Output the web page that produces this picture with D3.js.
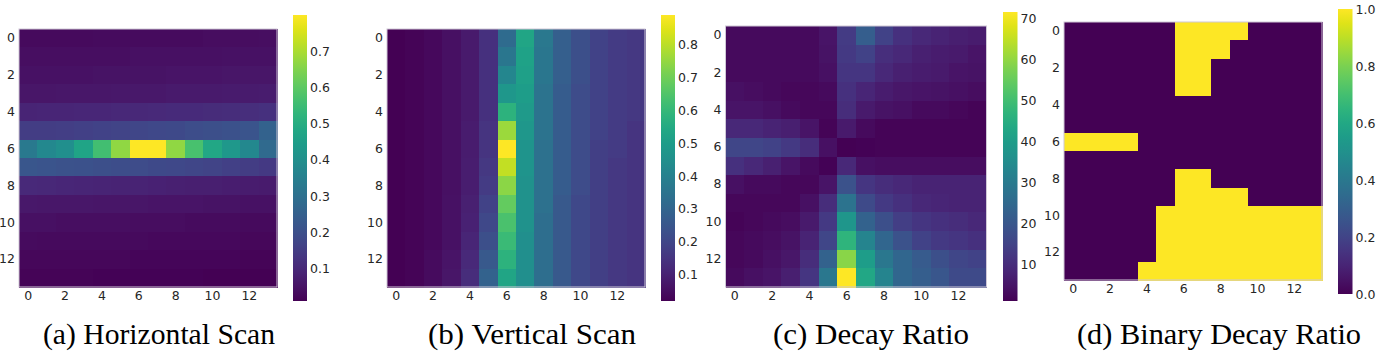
<!DOCTYPE html>
<html>
<head>
<meta charset="utf-8">
<script src="https://cdn.jsdelivr.net/npm/d3@7"></script>
<style>
  body { margin: 0; background: #fff; }
  svg { display: block; }
  .tick text { font-family: "DejaVu Sans", sans-serif; font-size: 12.5px; fill: #262626; }
</style>
</head>
<body>
<svg id="chart" width="1376" height="355"></svg>
<script>
// values (rows 0..13, columns 0..13)
const horizontalScan = [
  [0.030,0.030,0.031,0.031,0.032,0.032,0.033,0.033,0.034,0.034,0.035,0.036,0.037,0.038],
  [0.038,0.038,0.039,0.039,0.040,0.040,0.041,0.041,0.042,0.042,0.043,0.044,0.045,0.046],
  [0.045,0.046,0.046,0.047,0.048,0.049,0.050,0.050,0.051,0.052,0.053,0.054,0.055,0.056],
  [0.055,0.056,0.057,0.058,0.059,0.060,0.061,0.062,0.063,0.064,0.065,0.067,0.068,0.070],
  [0.090,0.091,0.092,0.094,0.095,0.097,0.099,0.101,0.103,0.105,0.107,0.110,0.113,0.120],
  [0.150,0.150,0.155,0.160,0.165,0.170,0.175,0.180,0.185,0.195,0.200,0.205,0.215,0.255],
  [0.330,0.380,0.400,0.470,0.560,0.670,0.800,0.800,0.670,0.570,0.480,0.430,0.380,0.280],
  [0.220,0.215,0.210,0.205,0.200,0.195,0.190,0.185,0.180,0.175,0.170,0.160,0.150,0.140],
  [0.100,0.098,0.095,0.092,0.090,0.087,0.085,0.082,0.080,0.077,0.075,0.072,0.070,0.066],
  [0.060,0.059,0.058,0.057,0.056,0.055,0.054,0.053,0.052,0.051,0.050,0.048,0.047,0.045],
  [0.042,0.041,0.040,0.040,0.039,0.038,0.037,0.036,0.035,0.034,0.033,0.032,0.031,0.030],
  [0.032,0.031,0.031,0.030,0.030,0.029,0.029,0.028,0.028,0.027,0.027,0.026,0.025,0.025],
  [0.025,0.025,0.024,0.024,0.023,0.023,0.022,0.022,0.021,0.021,0.020,0.020,0.019,0.018],
  [0.018,0.018,0.017,0.017,0.016,0.016,0.015,0.015,0.014,0.014,0.013,0.012,0.011,0.010]
];

const verticalScan = [
  [0.02,0.03,0.040,0.055,0.080,0.14,0.32,0.53,0.37,0.28,0.23,0.19,0.17,0.16],
  [0.02,0.03,0.040,0.055,0.080,0.14,0.36,0.52,0.36,0.28,0.23,0.19,0.17,0.16],
  [0.02,0.03,0.040,0.055,0.080,0.14,0.42,0.51,0.36,0.28,0.23,0.19,0.17,0.16],
  [0.02,0.03,0.040,0.055,0.080,0.14,0.48,0.50,0.35,0.27,0.22,0.19,0.17,0.16],
  [0.02,0.03,0.040,0.055,0.080,0.14,0.58,0.49,0.35,0.27,0.22,0.19,0.17,0.16],
  [0.02,0.03,0.040,0.056,0.085,0.15,0.76,0.48,0.35,0.27,0.22,0.19,0.17,0.15],
  [0.02,0.03,0.040,0.056,0.085,0.15,0.89,0.47,0.34,0.27,0.22,0.18,0.17,0.15],
  [0.02,0.03,0.040,0.057,0.090,0.16,0.81,0.47,0.34,0.27,0.22,0.18,0.16,0.15],
  [0.02,0.03,0.040,0.057,0.090,0.17,0.74,0.46,0.34,0.27,0.22,0.18,0.16,0.15],
  [0.02,0.03,0.040,0.058,0.095,0.19,0.68,0.46,0.34,0.26,0.21,0.18,0.16,0.15],
  [0.02,0.03,0.040,0.058,0.100,0.21,0.64,0.46,0.33,0.26,0.21,0.18,0.16,0.15],
  [0.02,0.03,0.040,0.060,0.110,0.23,0.61,0.45,0.33,0.26,0.21,0.18,0.16,0.15],
  [0.02,0.03,0.045,0.065,0.120,0.26,0.58,0.45,0.33,0.26,0.21,0.18,0.16,0.15],
  [0.02,0.03,0.045,0.070,0.130,0.29,0.53,0.45,0.33,0.26,0.21,0.18,0.16,0.15]
];

const decayRatio = [
  [3,   3,   3,   3,   3,   5,   13.5,22,  15,  11,  9,   8,   7,   6.5],
  [3,   3,   3,   3,   3,   4.5, 13,  15,  10.5,9,   7.5, 6.5, 6,   5],
  [3,   3,   3,   3,   3,   4,   12,  12,  9,   7.5, 6.5, 6,   5,   4.5],
  [4,   3.5, 3,   2.5, 2.5, 3,   11,  8.5, 6.5, 5.5, 5,   4.5, 4,   3.5],
  [5,   5,   4,   3,   2.5, 2.5, 10,  6,   4.5, 4,   3,   3,   2.5, 2],
  [9,   9,   8,   7,   5,   2,   6,   3,   2,   2,   2,   2,   2,   2],
  [16,  16,  15,  13,  10,  4,   1.2, 1.5, 2,   2,   2,   2,   2,   2],
  [11,  9,   7.5, 5,   3,   1.5, 9,   4,   3.5, 3.5, 3.5, 3.5, 3.5, 3.5],
  [4,   3,   3,   2.5, 2.5, 5,   19,  12,  10,  9,   8,   8,   8,   8],
  [2.5, 2.5, 2.5, 2.5, 4,   10,  28,  17,  13,  11,  9,   8.5, 8,   8],
  [2,   2.5, 3,   3.5, 6,   13,  38,  23,  18,  14,  12,  11,  10,  9],
  [2.5, 3,   3.5, 4.5, 8,   16,  47,  33,  24,  19,  15,  13,  12,  11],
  [2.5, 3,   4,   5.5, 10,  23,  59,  40,  29,  24,  21,  18,  16,  15],
  [3,   4,   5,   7,   12,  29,  71.5,43,  33,  24,  22,  20,  17,  17]
];

const binaryDecayRatio = [
  [0,0,0,0,0,0,1,1,1,1,0,0,0,0],
  [0,0,0,0,0,0,1,1,1,0,0,0,0,0],
  [0,0,0,0,0,0,1,1,0,0,0,0,0,0],
  [0,0,0,0,0,0,1,1,0,0,0,0,0,0],
  [0,0,0,0,0,0,0,0,0,0,0,0,0,0],
  [0,0,0,0,0,0,0,0,0,0,0,0,0,0],
  [1,1,1,1,0,0,0,0,0,0,0,0,0,0],
  [0,0,0,0,0,0,0,0,0,0,0,0,0,0],
  [0,0,0,0,0,0,1,1,0,0,0,0,0,0],
  [0,0,0,0,0,0,1,1,1,1,0,0,0,0],
  [0,0,0,0,0,1,1,1,1,1,1,1,1,1],
  [0,0,0,0,0,1,1,1,1,1,1,1,1,1],
  [0,0,0,0,0,1,1,1,1,1,1,1,1,1],
  [0,0,0,0,1,1,1,1,1,1,1,1,1,1]
];

const axisTicks = [0, 2, 4, 6, 8, 10, 12];
const horizontalTicks = [0.1, 0.2, 0.3, 0.4, 0.5, 0.6, 0.7];
const verticalTicks = [0.1, 0.2, 0.3, 0.4, 0.5, 0.6, 0.7, 0.8];
const decayTicks = [10, 20, 30, 40, 50, 60, 70];
const binaryTicks = [0.0, 0.2, 0.4, 0.6, 0.8, 1.0];
const captions = ["(a) Horizontal Scan", "(b) Vertical Scan", "(c) Decay Ratio", "(d) Binary Decay Ratio"];

// layout of each panel (heatmap square, colorbar, caption)
const panels = [
  { data: horizontalScan, ticks: horizontalTicks, fmt: d3.format(".1f"),
    heat: { x: 19, y: 29, s: 258 }, bar: { x: 293, y: 15, w: 14, h: 286 }, cap: { x: 43, w: 232 } },
  { data: verticalScan, ticks: verticalTicks, fmt: d3.format(".1f"),
    heat: { x: 387, y: 29, s: 258 }, bar: { x: 661, y: 15, w: 14, h: 286 }, cap: { x: 428, w: 208 } },
  { data: decayRatio, ticks: decayTicks, fmt: d3.format("d"),
    heat: { x: 725.5, y: 26, s: 261 }, bar: { x: 1003, y: 12, w: 14.5, h: 289 }, cap: { x: 773, w: 196 } },
  { data: binaryDecayRatio, ticks: binaryTicks, fmt: d3.format(".1f"),
    heat: { x: 1064, y: 22, s: 258 }, bar: { x: 1338, y: 9, w: 14.5, h: 285 }, cap: { x: 1077, w: 284 } }
];

const svg = d3.select("#chart");
const defs = svg.append("defs");

// shared viridis gradient for the colorbars
const grad = defs.append("linearGradient")
  .attr("id", "viridis")
  .attr("x1", 0).attr("y1", 1).attr("x2", 0).attr("y2", 0);
d3.range(0, 1.0001, 0.05).forEach(t => {
  grad.append("stop").attr("offset", t).attr("stop-color", d3.interpolateViridis(t));
});

panels.forEach((p, k) => {
  const n = p.data.length;
  const flat = p.data.flat();
  const ext = d3.extent(flat);
  const color = d3.scaleSequential(d3.interpolateViridis).domain(ext);

  const x = d3.scaleBand().domain(d3.range(n)).range([p.heat.x, p.heat.x + p.heat.s]);
  const y = d3.scaleBand().domain(d3.range(n)).range([p.heat.y, p.heat.y + p.heat.s]);

  const g = svg.append("g");

  const cells = [];
  p.data.forEach((row, r) => row.forEach((v, c) => cells.push({ r, c, v })));

  g.append("g")
    .selectAll("rect")
    .data(cells)
    .join("rect")
      .attr("x", d => x(d.c))
      .attr("y", d => y(d.r))
      .attr("width", x.bandwidth() + 0.5)
      .attr("height", y.bandwidth() + 0.5)
      .attr("fill", d => color(d.v))
      .attr("shape-rendering", "crispEdges");

  g.append("rect")
    .attr("x", p.heat.x).attr("y", p.heat.y)
    .attr("width", p.heat.s).attr("height", p.heat.s)
    .attr("fill", "none")
    .attr("stroke", "#cfc8d6")
    .attr("stroke-width", 1);

  g.append("g")
    .attr("transform", `translate(0,${p.heat.y + p.heat.s})`)
    .call(d3.axisBottom(x).tickValues(axisTicks).tickSize(0).tickPadding(4))
    .call(a => a.select(".domain").remove());

  g.append("g")
    .attr("transform", `translate(${p.heat.x},0)`)
    .call(d3.axisLeft(y).tickValues(axisTicks).tickSize(0).tickPadding(4))
    .call(a => a.select(".domain").remove());

  // colorbar
  g.append("rect")
    .attr("x", p.bar.x).attr("y", p.bar.y)
    .attr("width", p.bar.w).attr("height", p.bar.h)
    .attr("fill", "url(#viridis)");

  const cy = d3.scaleLinear().domain(ext).range([p.bar.y + p.bar.h, p.bar.y]);
  g.append("g")
    .attr("transform", `translate(${p.bar.x + p.bar.w},0)`)
    .call(d3.axisRight(cy).tickValues(p.ticks).tickFormat(p.fmt).tickSize(0).tickPadding(3))
    .call(a => a.select(".domain").remove());

  svg.append("text")
    .attr("x", p.cap.x)
    .attr("y", 344)
    .attr("font-family", "'Liberation Serif', 'Times New Roman', Times, serif")
    .attr("font-size", 30)
    .attr("fill", "#000")
    .attr("textLength", p.cap.w)
    .attr("lengthAdjust", "spacingAndGlyphs")
    .text(captions[k]);
});
</script>
</body>
</html>
